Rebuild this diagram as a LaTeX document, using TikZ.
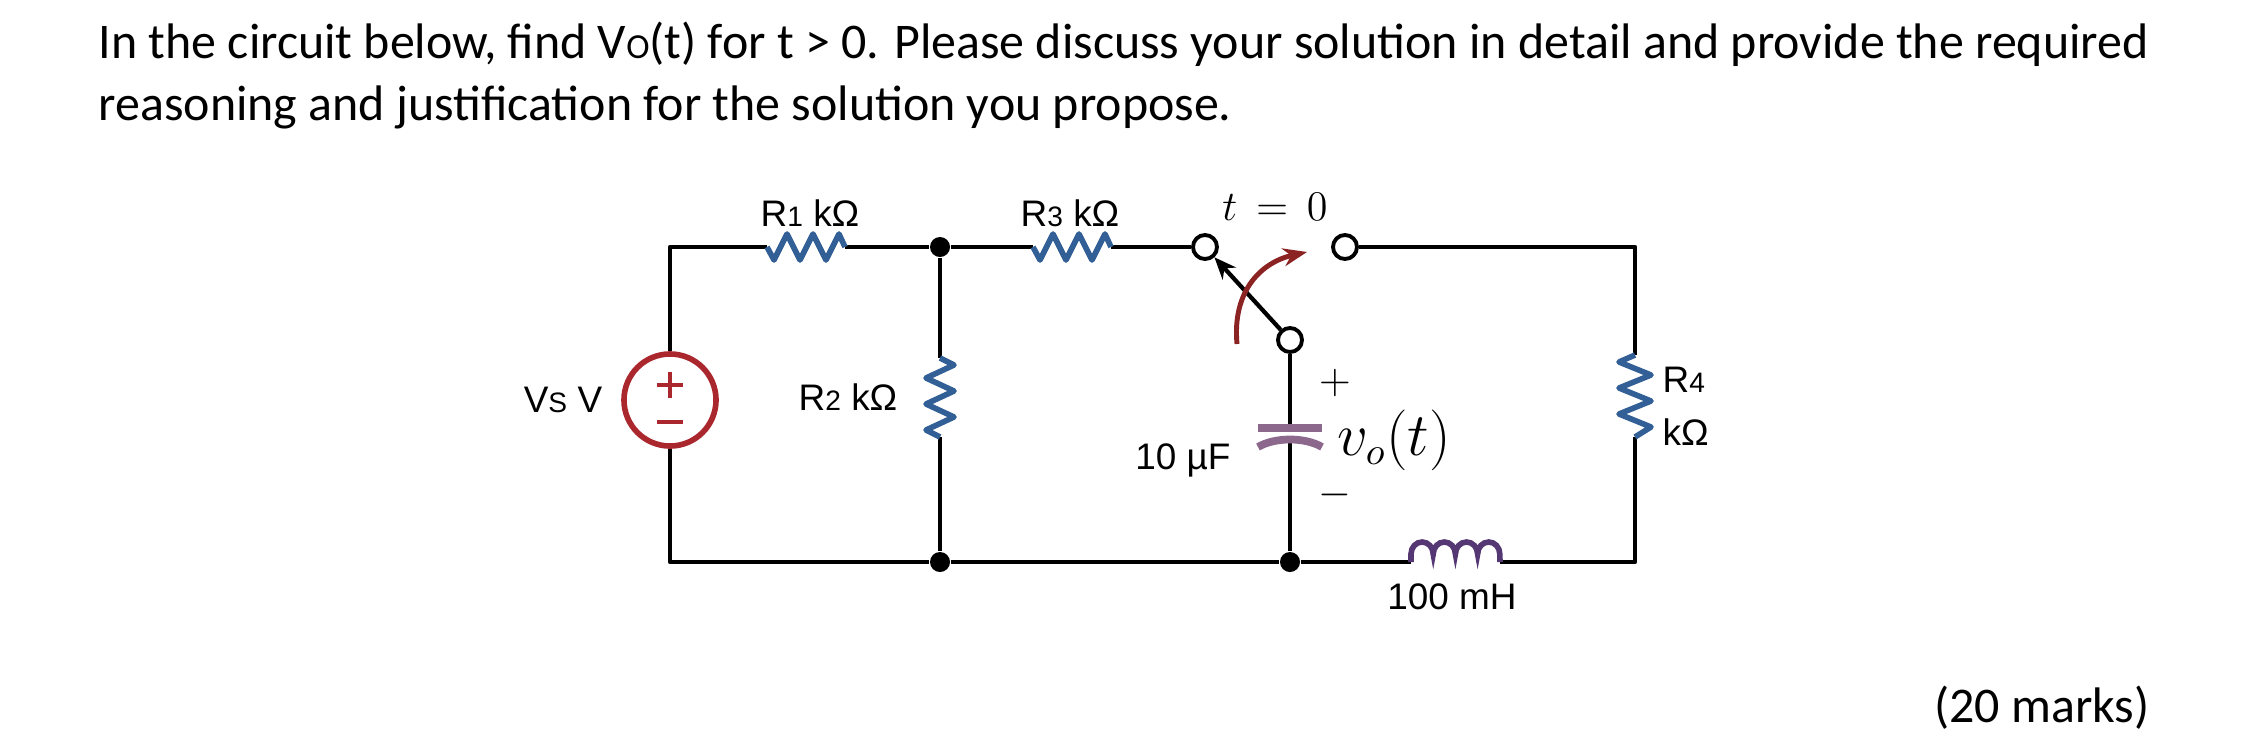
\documentclass[tikz,border=0pt]{standalone}
\usepackage{fontspec}
\setmainfont{Carlito}
\newfontfamily\lab{Liberation Sans}
\usetikzlibrary{arrows.meta}
\definecolor{resb}{RGB}{50,95,150}
\definecolor{srcr}{RGB}{170,40,45}
\definecolor{capp}{RGB}{140,105,140}
\definecolor{indp}{RGB}{85,55,115}
\definecolor{arcr}{RGB}{140,35,35}
\begin{document}
\begin{tikzpicture}[x=0.01cm,y=-0.01cm,
  wire/.style={line width=1.2pt,line join=round},
  res/.style={line width=1.6pt,resb,line join=round},
  term/.style={circle,draw,line width=1.1pt,fill=white,minimum size=0.24cm,inner sep=0pt},
  dot/.style={circle,fill=black,minimum size=0.2cm,inner sep=0pt},
  lbl/.style={font=\lab\fontsize{10.5}{12}\selectfont,inner sep=0pt},
  ttl/.style={font=\fontsize{14.2}{17}\selectfont,inner sep=0pt,anchor=base west}]
\useasboundingbox (0,0) rectangle (2254,754);
% title
\node[ttl] (t1) at (98,58) {In the circuit below, find V{\fontsize{10}{12}\selectfont O}(t) for t > 0. Please discuss your solution in detail and provide the required};
\node[ttl] (t2) at (98,120) {reasoning and justification for the solution you propose.};
\node[ttl,anchor=base east] (t3) at (2150,722) {(20 marks)};
% coordinates
\coordinate (TL) at (670,247);
\coordinate (BL) at (670,562);
\coordinate (R1a) at (767,247);
\coordinate (R1b) at (845,247);
\node[dot] (NT) at (940,247) {};
\node[dot] (NB) at (940,562) {};
\coordinate (R2a) at (940,358);
\coordinate (R2b) at (940,437);
\coordinate (R3a) at (1033,247);
\coordinate (R3b) at (1111,247);
\node[term] (SL) at (1205,247) {};
\node[term] (SR) at (1345,247) {};
\node[term] (SP) at (1290,340) {};
\coordinate (TR) at (1635,247);
\coordinate (BR) at (1635,562);
\coordinate (R4a) at (1635,355);
\coordinate (R4b) at (1635,437);
\node[dot] (CB) at (1290,562) {};
\coordinate (C1) at (1290,428);
\coordinate (C2) at (1290,440);
\coordinate (La) at (1411,562);
\coordinate (Lb) at (1500,562);
\node[circle,draw=srcr,line width=1.6pt,minimum size=0.92cm,inner sep=0pt] (VS) at (670,400) {};
% wires
\draw[wire] (VS.north) -- (TL) -- (R1a);
\draw[wire] (R1b) -- (NT) -- (R3a);
\draw[wire] (R3b) -- (SL);
\draw[wire] (NT) -- (R2a);
\draw[wire] (R2b) -- (NB);
\draw[wire] (VS.south) -- (BL) -- (NB) -- (CB) -- (La);
\draw[wire] (Lb) -- (BR) -- (R4b);
\draw[wire] (R4a) -- (TR) -- (SR);
\draw[wire] (SP) -- (C1);
\draw[wire] (C2) -- (CB);
% resistors
\draw[res] (R1a) -- ++(7,13) -- ++(13,-26) -- ++(13,26) -- ++(13,-26) -- ++(13,26) -- ++(13,-26) -- (R1b);
\draw[res] (R3a) -- ++(7,13) -- ++(13,-26) -- ++(13,26) -- ++(13,-26) -- ++(13,26) -- ++(13,-26) -- (R3b);
\draw[res] (R2a) -- ++(14,7) -- ++(-28,13) -- ++(28,13) -- ++(-28,13) -- ++(28,13) -- ++(-28,13) -- (R2b);
\draw[res] (R4a) -- ++(-16,7) -- ++(32,13) -- ++(-32,13) -- ++(32,13) -- ++(-32,13) -- ++(32,13) -- (R4b);
% source signs
\draw[srcr,line width=1.1pt] (657,385) -- (683,385) (670,372) -- (670,398) (657,422) -- (683,422);
% capacitor
\draw[capp,line width=2.2pt] (1258,428) -- (1322,428);
\draw[capp,line width=2.2pt] (1258,447) .. controls (1275,437) and (1305,437) .. (1322,447);
% inductor
\draw[indp,line width=1.6pt] (La) -- ++(0,-8) arc (180:360:11.1 and 12) arc (180:360:11.1 and 12) arc (180:360:11.1 and 12) arc (180:360:11.1 and 12) -- (Lb);
% switch
\draw[wire,-{Stealth[length=0.22cm,width=0.18cm]}] (SP) -- (SL);
\draw[arcr,line width=1.4pt,-{Stealth[length=0.24cm,width=0.18cm]}] (1237,344) .. controls (1232,290) and (1262,262) .. (1307,252);
% labels
\node[lbl] (l1) at (810,213) {R{\fontsize{8}{9}\selectfont 1} kΩ};
\node[lbl] (l3) at (1070,213) {R{\fontsize{8}{9}\selectfont 3} kΩ};
\node[lbl] (l2) at (848,397) {R{\fontsize{8}{9}\selectfont 2} kΩ};
\node[lbl] (lv) at (563,400) {V{\fontsize{8}{9}\selectfont S} V};
\node[lbl,anchor=west] (l4a) at (1662,380) {R{\fontsize{8}{9}\selectfont 4}};
\node[lbl,anchor=west] (l4b) at (1662,432) {kΩ};
\node[lbl] (lc) at (1183,460) {10 µF};
\node[lbl] (ll) at (1452,597) {100 mH};
\node[inner sep=0pt,font=\fontsize{13}{14}\selectfont] (lt) at (1275,207) {$t\,=\,0$};
\node[inner sep=0pt,font=\fontsize{12}{14}\selectfont] (lp) at (1335,383) {$+$};
\node[inner sep=0pt,font=\fontsize{12}{14}\selectfont] (lm) at (1335,495) {$-$};
\node[inner sep=0pt,font=\fontsize{16}{18}\selectfont] (lvo) at (1394,440) {$v_o(t)$};
\end{tikzpicture}
\end{document}
